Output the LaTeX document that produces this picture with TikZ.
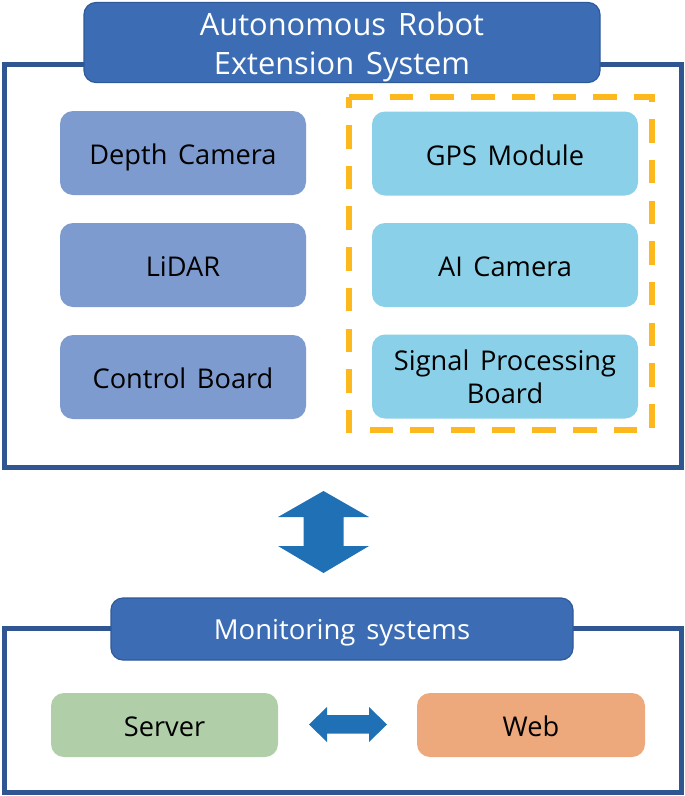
\documentclass[tikz,border=0pt]{standalone}
\usepackage{fontspec}
\setmainfont[WordSpace=1.5]{Open Sans}
\definecolor{frameblue}{HTML}{2F5690}
\definecolor{headblue}{HTML}{3C6DB4}
\definecolor{headedge}{HTML}{2F5A9A}
\definecolor{boxblue}{HTML}{7D9BCF}
\definecolor{boxcyan}{HTML}{8AD0E8}
\definecolor{dashor}{HTML}{FDB81E}
\definecolor{arrowblue}{HTML}{1F70B5}
\definecolor{boxgreen}{HTML}{B0CFA8}
\definecolor{boxorange}{HTML}{EDA87C}
\tikzset{x=1pt,y=-1pt,
  frame/.style={draw=frameblue,line width=5pt,fill=white,inner sep=0pt},
  head/.style={draw=headedge,line width=1.2pt,fill=headblue,rounded corners=12pt,inner sep=0pt},
  headtext/.style={text=white,align=center,inner sep=0pt},
  modbox/.style={rounded corners=13pt,text=black,font=\fontsize{27.2}{33}\selectfont,align=center,inner sep=0pt},
  oneline/.style={text height=23pt,text depth=0pt},
  bluebox/.style={modbox,oneline,fill=boxblue,minimum width=246,minimum height=84},
  cyanbox/.style={modbox,fill=boxcyan,minimum width=266,minimum height=84},
  dblarrow/.style={fill=arrowblue},
}
\begin{document}
\begin{tikzpicture}
\useasboundingbox (0,0) rectangle (685,796);
\node[frame,minimum width=677,minimum height=403] (topframe) at (342.5,265.5) {};
\node[frame,minimum width=677,minimum height=164] (botframe) at (342.5,710) {};
\node[head,minimum width=516,minimum height=80,
  label={[headtext,font=\fontsize{30.8}{39}\selectfont,yshift=-4.5pt]center:{Autonomous Robot\\Extension System}}] (tophead) at (342,42.5) {};
\node[head,minimum width=462,minimum height=62,
  label={[headtext,font=\fontsize{27.5}{33}\selectfont,yshift=-3.5pt]center:{Monitoring systems}}] (bothead) at (342,629) {};
\node[bluebox] (depth) at (183,153) {Depth Camera};
\node[bluebox] (lidar) at (183,265) {LiDAR};
\node[bluebox] (control) at (183,377) {Control Board};
\node[cyanbox,oneline] (gps) at (505,153.5) {GPS Module};
\node[cyanbox,oneline] (ai) at (505,265) {AI Camera};
\node[cyanbox] (sig) at (505,376.5) {Signal Processing\\Board};
\draw[dashor,line width=6pt,dash pattern=on 23.5pt off 17.2pt] (349,96.5) -- (652,96.5) -- (652,430) -- (349,430) -- cycle;
\node[modbox,oneline,fill=boxgreen,minimum width=227,minimum height=64] (server) at (164.5,725) {Server};
\node[modbox,oneline,fill=boxorange,minimum width=228,minimum height=64] (web) at (531,725) {Web};
\fill[dblarrow] (323.5,491) -- (369,517) -- (343.5,517) -- (343.5,546) -- (369,546) -- (323.5,573) -- (278,546) -- (303.5,546) -- (303.5,517) -- (278,517) -- cycle;
\fill[dblarrow] (309,724.5) -- (327,707) -- (327,715) -- (369,715) -- (369,707) -- (387,724.5) -- (369,742) -- (369,733.5) -- (327,733.5) -- (327,742) -- cycle;
\end{tikzpicture}
\end{document}
